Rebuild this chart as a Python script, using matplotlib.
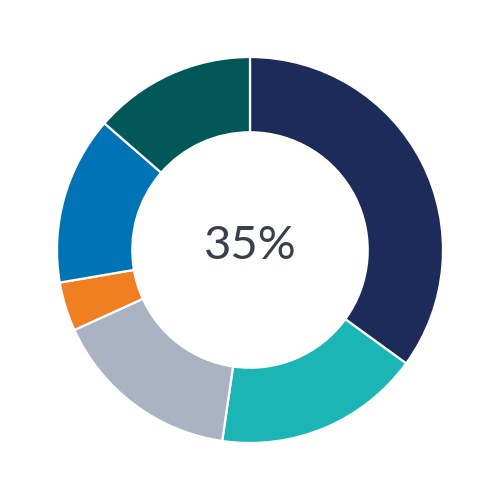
import matplotlib.pyplot as plt

labels = ['A', 'B', 'C', 'D', 'E', 'F']
shares = [35, 17.3, 15.9, 4.1, 14.1, 13.6]
colors = ['#1d2b5a', '#1bb5b5', '#a9b3c1', '#f07f22', '#0073b5', '#025758']
center_label = '35%'

fig = plt.figure(figsize=(5, 5), dpi=100)
ax = fig.add_axes([0, 0, 1, 1])
ax.pie(shares, colors=colors, startangle=90, counterclock=False,
       radius=1, wedgeprops=dict(width=0.39, edgecolor='white', linewidth=1.6))
ax.text(0, 0.02, center_label, ha='center', va='center', fontsize=34,
        color='#3b3f4a', family=['Lato', 'DejaVu Sans'])
lim = 250 / 193
ax.set_xlim(-lim, lim)
ax.set_ylim(-lim, lim)
ax.set_aspect('equal')
ax.axis('off')
fig.savefig('out.png', dpi=100, facecolor='white')
